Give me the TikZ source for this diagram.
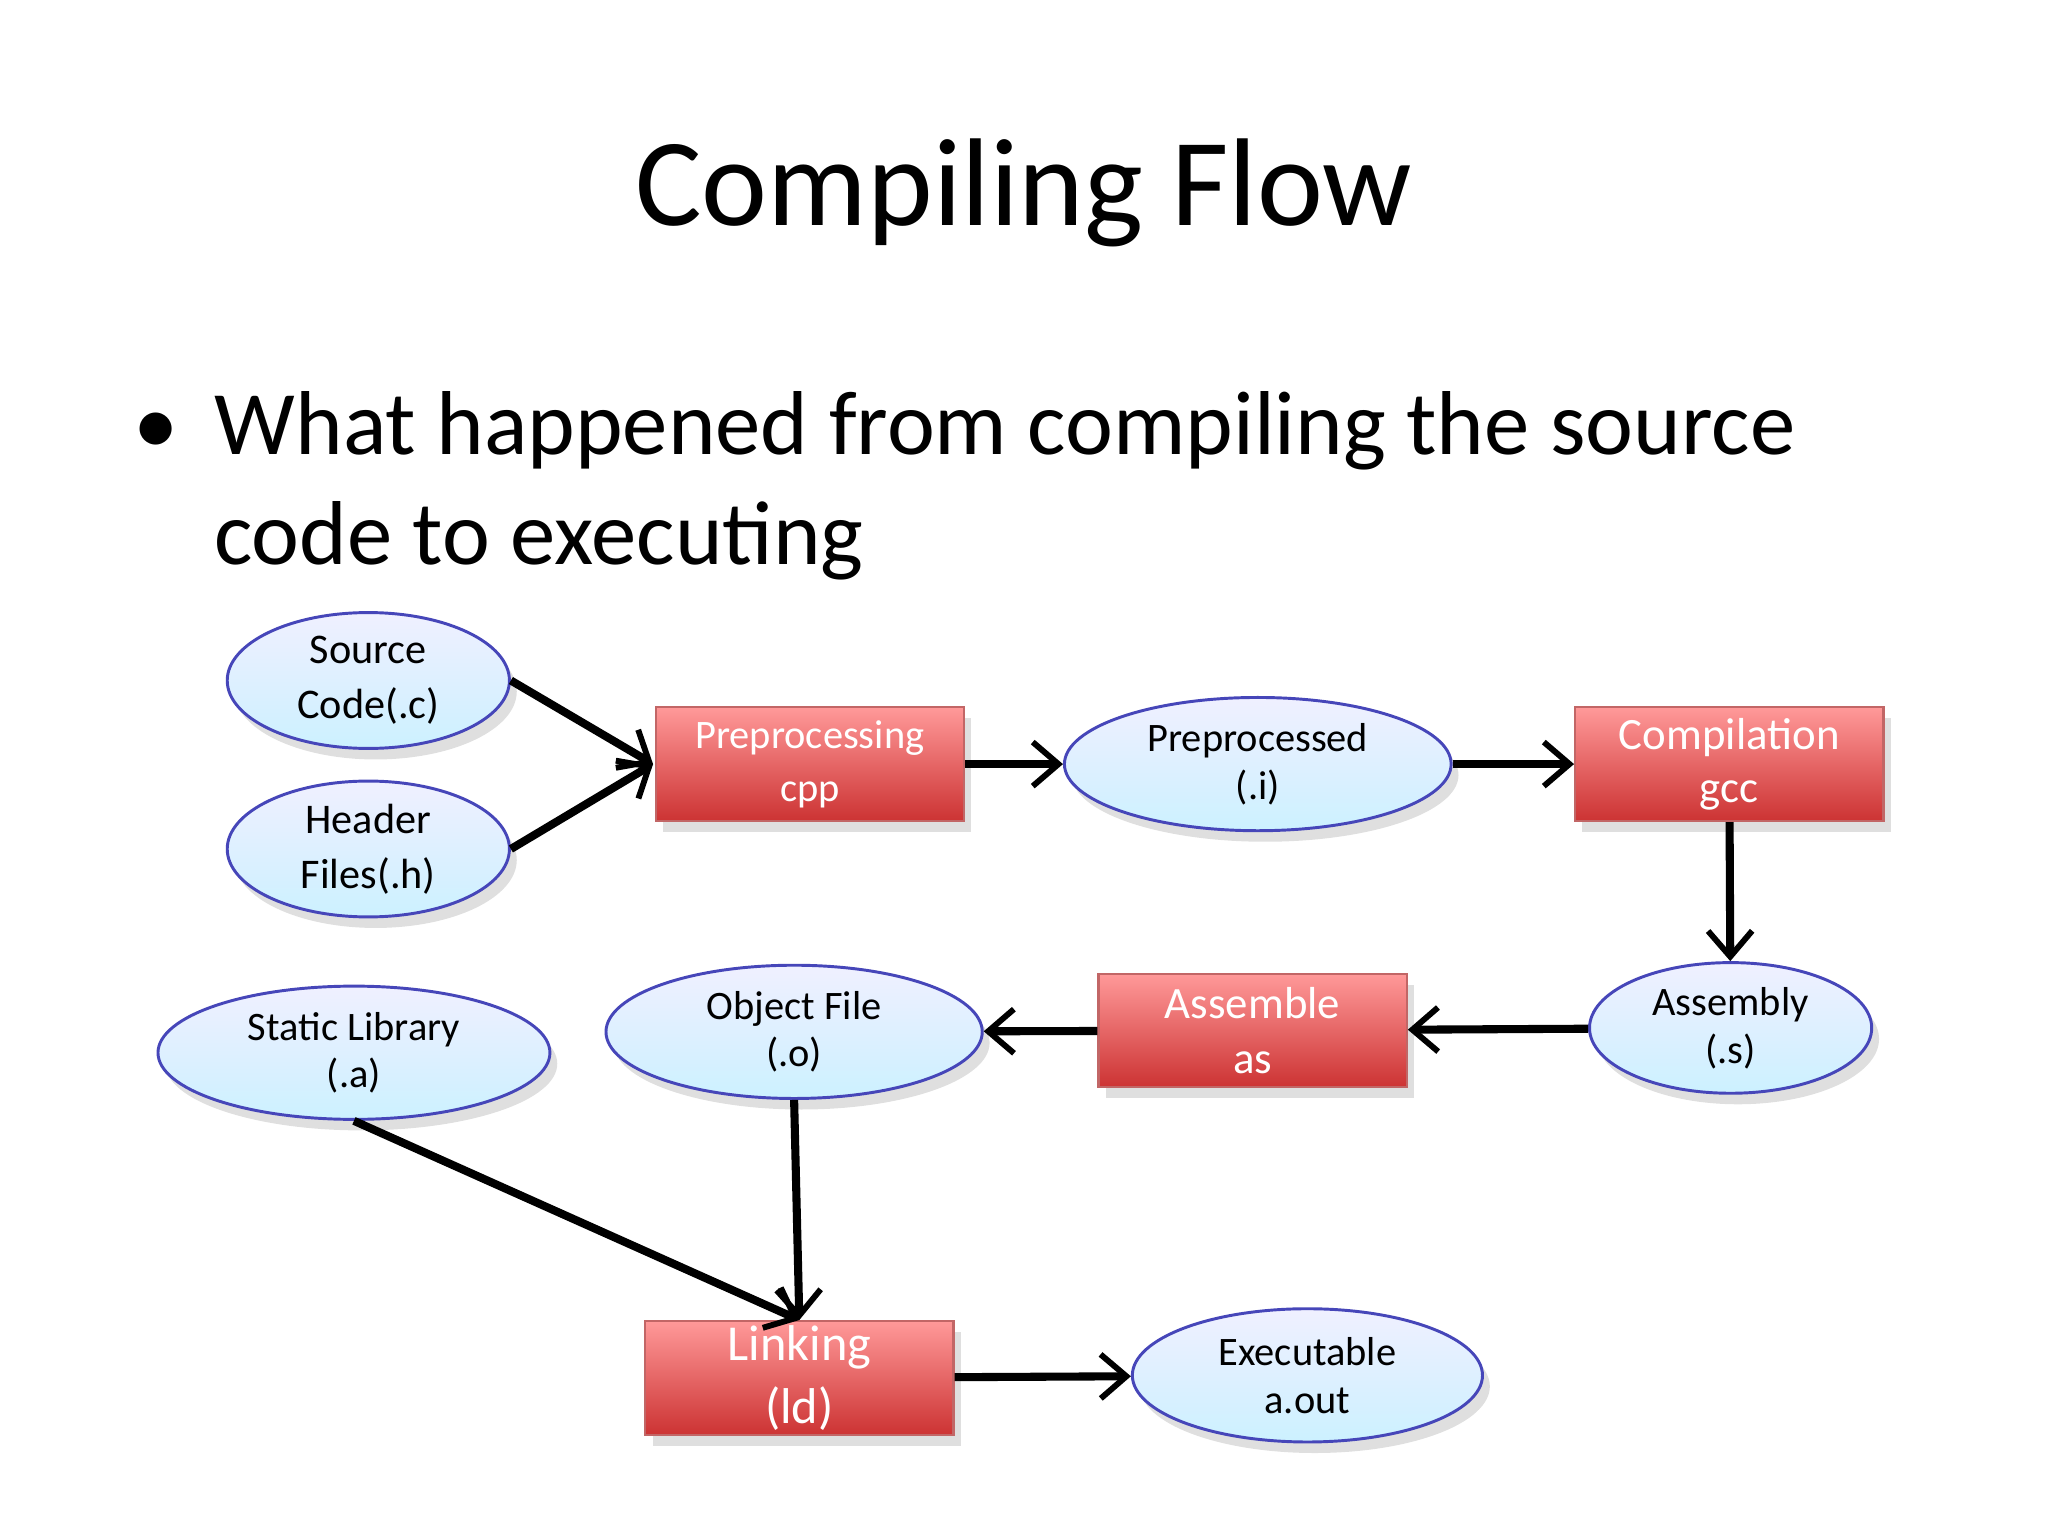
\documentclass[tikz,border=0pt]{standalone}
\usepackage{fontspec}
\setmainfont{Carlito}
\usetikzlibrary{shapes.geometric,arrows.meta,shadows}
\begin{document}
\begin{tikzpicture}[x=0.0125cm,y=-0.0125cm,
  ell/.style={ellipse,draw=blue!45!gray,line width=0.8pt,top color=blue!6,bottom color=blue!28!cyan!20,
    drop shadow={opacity=0.25,shadow xshift=2pt,shadow yshift=-3pt},align=center,inner sep=0pt,font=\fontsize{11}{13}\selectfont},
  box/.style={rectangle,draw=red!60!black!60,line width=0.6pt,top color=red!40!white,bottom color=red!75!black!80,
    drop shadow={opacity=0.25,shadow xshift=2pt,shadow yshift=-3pt},align=center,text=white,
    minimum width=2.95cm,minimum height=1.0875cm,inner sep=0pt},
  arr/.style={-{Straight Barb[length=7pt,width=12pt,line width=1.6pt]},line width=2.2pt,black}]
\useasboundingbox (0,0) rectangle (1568,1176);
\node[font=\fontsize{34}{40}\selectfont] (title) at (784,148) {Compiling Flow};
\node[font=\fontsize{24.7}{30}\selectfont,anchor=base west] (bul1) at (92,348) {\makebox[0.78cm][l]{•}What happened from compiling the source};
\node[font=\fontsize{24.7}{30}\selectfont,anchor=base west] (bul2) at (154,432) {code to executing};
\node[ell,minimum width=2.7cm,minimum height=1.3cm,font=\fontsize{11.5}{15}\selectfont] (src) at (282,521) {Source\\Code(.c)};
\node[ell,minimum width=2.7cm,minimum height=1.3cm,font=\fontsize{11.5}{15}\selectfont] (hdr) at (282,650) {Header\\Files(.h)};
\node[box,font=\fontsize{11}{14.5}\selectfont] (pre) at (620,585) {Preprocessing\\cpp};
\node[ell,minimum width=3.7cm,minimum height=1.275cm] (pred) at (963,585) {Preprocessed\\(.i)};
\node[box,font=\fontsize{12.2}{14.5}\selectfont] (comp) at (1324,585) {Compilation\\gcc};
\node[ell,minimum width=2.7cm,minimum height=1.25cm] (asm) at (1325,787) {Assembly\\(.s)};
\node[box,font=\fontsize{12.2}{15}\selectfont] (as) at (959,789) {Assemble\\as};
\node[ell,minimum width=3.6cm,minimum height=1.275cm] (obj) at (608,790) {Object File\\(.o)};
\node[ell,minimum width=3.75cm,minimum height=1.275cm] (lib) at (271,806) {Static Library\\(.a)};
\node[box,font=\fontsize{13.7}{17}\selectfont] (link) at (612,1055) {Linking\\(ld)};
\node[ell,minimum width=3.35cm,minimum height=1.275cm] (exe) at (1001,1053) {Executable\\a.out};
\coordinate (pin) at (500,585);
\draw[arr] (src.east) -- (pin);
\draw[arr] (hdr.east) -- (pin);
\draw[arr] (pre) -- (pred);
\draw[arr] (pred) -- (comp);
\draw[arr] (comp) -- (asm);
\draw[arr] (asm) -- (as);
\draw[arr] (as) -- (obj);
\draw[arr] (lib.south) -- (link.north);
\draw[arr] (obj.south) -- (link.north);
\draw[arr] (link) -- (exe);
\end{tikzpicture}
\end{document}
